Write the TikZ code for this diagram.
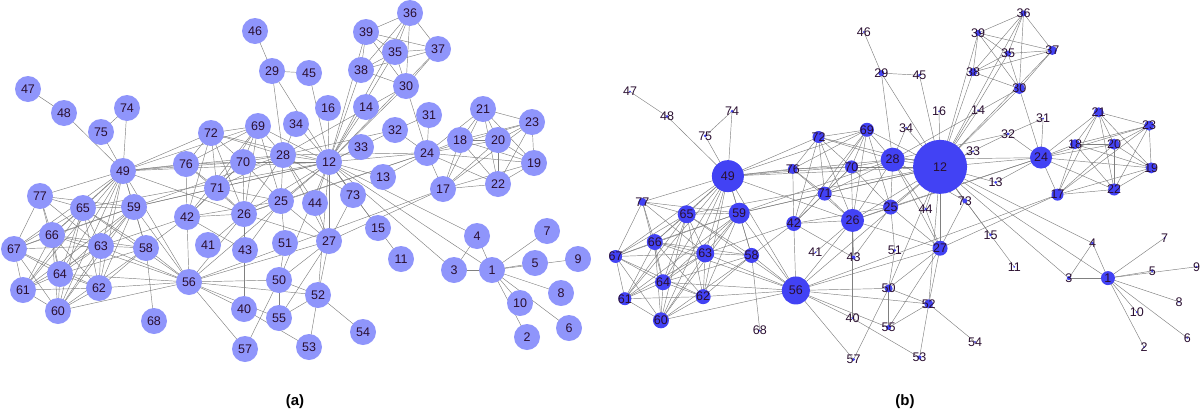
\documentclass[tikz,border=0pt]{standalone}
\usepackage{fontspec}
\setmainfont{Liberation Sans}
\pgfdeclarelayer{bg}
\pgfsetlayers{bg,main}
\definecolor{nodeA}{HTML}{8F95FB}
\definecolor{nodeB}{HTML}{4242F4}
\definecolor{edgeC}{HTML}{808080}
\definecolor{txt}{HTML}{2A0F30}
\begin{document}
\begin{tikzpicture}[x=1pt,y=-1pt]
\tikzset{
 anode/.style={circle, fill=nodeA, minimum size=26pt, inner sep=0pt, font=\fontsize{12.5}{13}\selectfont, text=txt},
 bnode/.style={circle, fill=nodeB, inner sep=0pt},
 blabel/.style={font=\fontsize{12.5}{13}\selectfont, text=txt, inner sep=0pt},
 edge/.style={draw=edgeC, line width=0.45pt},
 panel/.style={font=\bfseries\fontsize{15}{16}\selectfont}
}
\useasboundingbox (0,0) rectangle (1200,413);
\foreach \n/\x/\y/\d in {
1/492/270/14, 2/527/337/2, 3/454/270/4, 4/477/236/3, 5/535/263/3, 6/569/328/2, 7/547/231/2, 8/561/293/2, 9/578/259/2, 10/520/303/2,
11/401/259/2, 12/329/162/54, 13/383/177/3, 14/366/107/2, 15/378/228/3, 16/328/108/2, 17/443/189/12, 18/460/140/10, 19/534/163/11, 20/498/140/11,
21/483/109/10, 22/498/184/12, 23/532/122/10, 24/427/153/22, 25/281/201/15, 26/244/214/23, 27/329/241/15, 28/283/155/24, 29/272/71/6, 30/406/86/11,
31/429/115/2, 32/395/130/3, 33/361/147/2, 34/296/124/2, 35/395/52/6, 36/410/13/6, 37/438/49/9, 38/361/70/8, 39/366/32/6, 40/244/309/2,
41/208/245/2, 42/187/217/15, 43/245/250/4, 44/315/203/3, 45/309/73/3, 46/255/31/2, 47/28/89/2, 48/64/113/3, 49/123/171/32, 50/279/280/8,
51/285/243/3, 52/318/295/9, 53/309/347/4, 54/363/332/2, 55/279/318/5, 56/189/282/28, 57/245/349/3, 58/146/248/15, 59/134/207/21, 60/58/311/16,
61/23/290/13, 62/99/288/15, 63/101/246/18, 64/60/274/16, 65/83/208/18, 66/52/235/16, 67/14/249/13, 68/154/321/2, 69/258/126/14, 70/243/162/13,
71/217/188/14, 72/211/133/12, 73/353/195/5, 74/127/108/3, 75/101/132/3, 76/186/164/10, 77/40/196/8}
{
 \node[anode] (a\n) at (\x,\y) {\n};
 \node[bnode, minimum size=\d pt, label={[blabel]center:\n}] (b\n) at ({1.03*\x+601.2},{1.03*\y}) {};
}
\begin{pgfonlayer}{bg}
\foreach \u/\v in {
2/1,3/1,4/1,4/3,5/1,6/1,7/1,8/1,9/1,10/1,
12/11,12/4,12/3,12/1,13/12,14/12,15/12,16/12,
18/17,19/17,19/18,20/17,20/18,20/19,21/17,21/18,21/19,21/20,22/17,22/18,22/19,22/20,22/21,23/17,23/18,23/19,23/20,23/21,23/22,
24/17,24/18,24/19,24/20,24/21,24/22,24/23,24/13,24/12,
25/24,25/12,26/25,26/24,26/12,27/25,27/12,27/17,27/26,
28/12,28/24,28/26,28/25,28/27,29/12,29/28,30/24,30/28,30/12,31/24,
32/31,32/12,32/24,32/28,33/12,34/12,34/28,35/12,35/30,
36/35,36/12,36/30,37/35,37/36,37/12,37/30,38/35,38/36,38/37,38/12,38/30,
39/35,39/36,39/37,39/38,39/12,39/30,40/26,41/26,42/25,42/26,43/42,43/26,43/25,
44/12,44/27,44/28,45/29,45/12,46/29,48/47,49/48,49/26,49/28,49/12,
50/27,50/12,51/50,51/25,52/50,52/27,52/12,53/52,53/40,54/52,55/52,55/50,55/27,
56/52,56/50,56/40,56/55,56/27,56/12,56/17,56/26,56/42,56/49,
57/50,57/56,58/56,58/42,58/49,59/58,59/56,59/49,59/28,59/12,
60/59,60/56,60/49,60/58,61/49,61/59,61/60,
62/56,62/59,62/60,62/49,62/58,62/61,
63/56,63/59,63/60,63/49,63/58,63/42,63/62,63/61,
64/60,64/49,64/63,64/58,64/59,64/62,64/61,64/56,
65/56,65/63,65/49,65/64,65/59,65/62,65/61,65/60,65/58,65/12,
66/64,66/65,66/49,66/63,66/59,66/62,66/61,66/60,66/58,66/56,
67/65,67/59,67/60,67/63,67/66,67/49,67/64,67/62,67/61,
68/58,69/26,69/12,69/25,69/28,69/49,69/42,
70/26,70/69,70/12,70/25,70/28,70/49,70/42,
71/26,71/70,71/69,71/12,71/25,71/28,71/42,71/59,
72/28,72/70,72/69,72/71,72/12,72/49,72/42,72/26,
73/27,73/28,73/12,74/49,75/49,75/74,
76/70,76/69,76/26,76/49,76/42,76/71,76/72,
77/65,77/66,77/67,77/64,77/63,77/49,77/59}
{
 \draw[edge] (a\u.center) -- (a\v.center);
 \draw[edge] (b\u.center) -- (b\v.center);
}
\end{pgfonlayer}
\node[panel] (la) at (295,402) {(a)};
\node[panel] (lb) at (905,402) {(b)};
\end{tikzpicture}
\end{document}
